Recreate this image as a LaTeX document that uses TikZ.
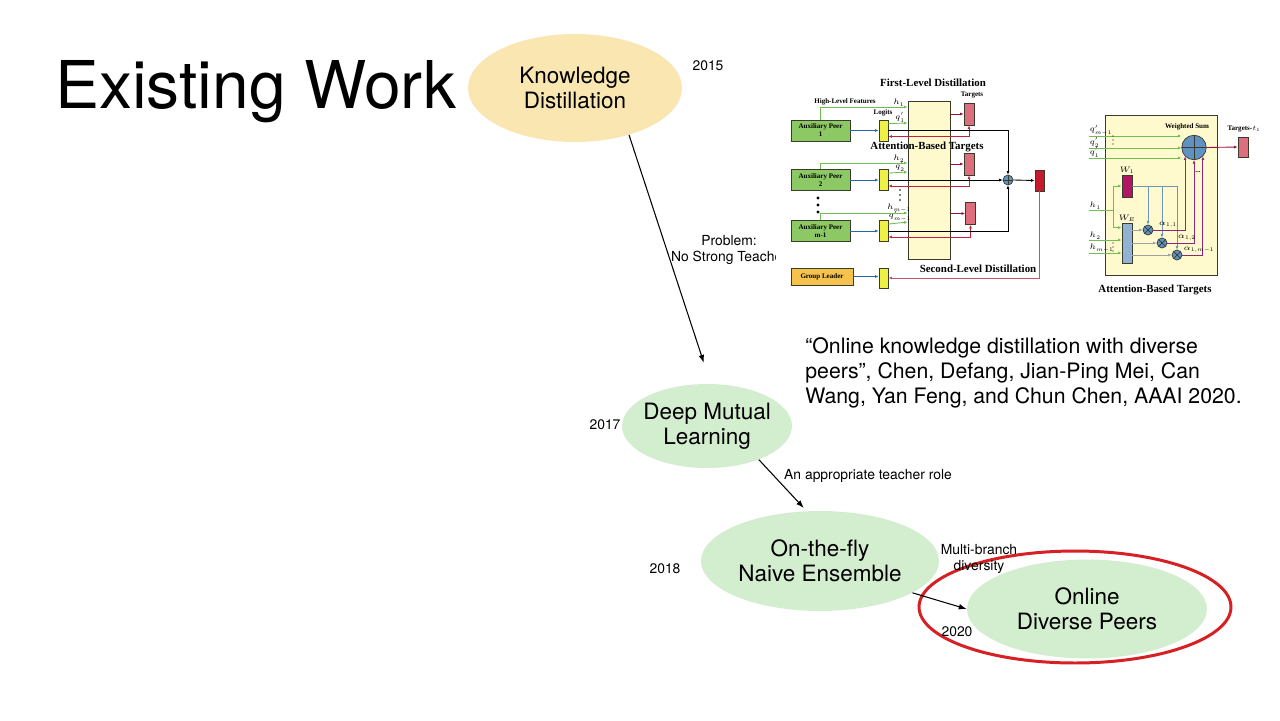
\RequirePackage{fix-cm}
\documentclass[tikz,border=0pt]{standalone}
\usepackage{fontspec}
\setmainfont{TeX Gyre Heros}
\newfontfamily\bildfont{Liberation Serif}
\usepackage{amsmath}
\usetikzlibrary{shapes.geometric,arrows.meta}

\definecolor{kdgelb}{RGB}{249,230,176}
\definecolor{hellgruen}{RGB}{211,237,207}
\definecolor{ringrot}{RGB}{214,32,36}
\definecolor{kastenrand}{RGB}{55,60,45}
\definecolor{peergruen}{RGB}{140,200,100}
\definecolor{leiterorange}{RGB}{245,195,75}
\definecolor{logitgelb}{RGB}{238,240,70}
\definecolor{grossgelb}{RGB}{255,250,205}
\definecolor{zielrosa}{RGB}{222,110,125}
\definecolor{ausrot}{RGB}{200,25,45}
\definecolor{summenblau}{RGB}{95,145,195}
\definecolor{wmagenta}{RGB}{180,20,100}
\definecolor{weblau}{RGB}{145,178,210}
\definecolor{liniengruen}{RGB}{112,190,80}
\definecolor{linienblau}{RGB}{40,100,170}
\definecolor{linienrot}{RGB}{200,30,60}
\definecolor{linienrosa}{RGB}{190,85,105}
\definecolor{dunkelrot}{RGB}{150,20,50}
\definecolor{graublau}{RGB}{110,150,180}
\definecolor{liniengrau}{RGB}{160,160,160}
\definecolor{lila}{RGB}{140,40,120}

\begin{document}
\begin{tikzpicture}[
      x=0.02cm, y=-0.02cm,
      blase/.style={ellipse, inner sep=0pt, align=center, font=\fontsize{12.8}{14.3}\selectfont},
      gelbblase/.style={blase, fill=kdgelb},
      gruenblase/.style={blase, fill=hellgruen},
      pfeil/.style={-{Latex[length=4.5pt,width=3.2pt]}, black, line width=0.6pt},
      notiz/.style={font=\fontsize{7.9}{9}\selectfont, align=center, inner sep=0pt},
      zitat/.style={font=\fontsize{12.1}{14.2}\selectfont, align=left, inner sep=0pt},
      % Stile der eingefuegten Abbildung
      bildtitel/.style={font=\bildfont\bfseries\fontsize{6.2}{7}\selectfont, inner sep=0pt},
      bildklein/.style={font=\bildfont\bfseries\fontsize{4}{4.6}\selectfont, inner sep=0pt, align=center},
      bildmathe/.style={font=\fontsize{4.5}{5}\selectfont, inner sep=0.2pt},
      kasten/.style={draw=kastenrand, line width=0.5pt, inner sep=0pt, bildklein},
      peer/.style={kasten, fill=peergruen, minimum width=1.18cm, minimum height=0.42cm},
      leiter/.style={kasten, fill=leiterorange, minimum width=1.24cm, minimum height=0.34cm},
      logit/.style={kasten, fill=logitgelb, minimum width=0.18cm, minimum height=0.42cm},
      ziel/.style={kasten, fill=zielrosa, minimum width=0.2cm, minimum height=0.44cm},
      kreis/.style={circle, draw=kastenrand, fill=summenblau, line width=0.4pt, inner sep=0pt, minimum size=0.2cm},
      summe/.style={kreis, path picture={\draw[line width=0.4pt]
          (path picture bounding box.north) -- (path picture bounding box.south)
          (path picture bounding box.west) -- (path picture bounding box.east);}},
      mal/.style={kreis, path picture={\draw[line width=0.4pt]
          (path picture bounding box.north west) -- (path picture bounding box.south east)
          (path picture bounding box.north east) -- (path picture bounding box.south west);}},
      linie/.style={line width=0.5pt, -{Latex[length=2pt,width=1.7pt]}},
      gruenlinie/.style={linie, draw=liniengruen},
      blaulinie/.style={linie, draw=linienblau},
      schwarzlinie/.style={linie, draw=black},
      rotlinie/.style={linie, draw=linienrot, {Latex[length=2pt,width=1.7pt]}-{Latex[length=2pt,width=1.7pt]}},
      rosalinie/.style={linie, draw=linienrosa},
      dunkelrotlinie/.style={linie, draw=dunkelrot},
      graublaulinie/.style={linie, draw=graublau},
      graulinie/.style={linie, draw=liniengrau},
      lilalinie/.style={linie, draw=lila}
    ]
    \fill[white] (0,0) rectangle (1280,720);
    \useasboundingbox (0,0) rectangle (1280,720);

    % ---------- Titel ----------
    \node[anchor=base west, inner sep=0pt, font=\fontsize{37.5}{44}\selectfont] (titel) at (55,108) {Existing Work};

    % ---------- Zeitleiste ----------
    \node[gelbblase, minimum width=4.28cm, minimum height=2.16cm] (kd) at (575,88) {Knowledge\\Distillation};
    \node[gruenblase, inner xsep=-0.08cm, minimum width=3.4cm, minimum height=1.68cm] (dml) at (707,426) {Deep Mutual\\Learning};
    \node[gruenblase, minimum width=4.76cm, minimum height=2cm] (otf) at (820,561) {On-the-fly\\Naive Ensemble};
    \node[gruenblase, minimum width=4.8cm, minimum height=1.98cm] (odp) at (1087,609) {Online\\Diverse Peers};
    \node[ellipse, draw=ringrot, line width=1.7pt, minimum width=6.24cm, minimum height=2.24cm] (ring) at (1075,607) {};

    \node[notiz] (j15) at (708,66) {2015};
    \node[notiz] (j17) at (605,425) {2017};
    \node[notiz] (j18) at (665,569) {2018};
    \node[notiz] (j20) at (957,632) {2020};

    \draw[pfeil, shorten >=0.44cm] (kd.-41) -- (dml.85);
    \draw[pfeil, shorten >=0.08cm] (dml.-33) -- (otf.105);
    \draw[pfeil] (otf.-19) -- (odp.west);

    \node[notiz] (problem) at (729,250) {Problem:\\No Strong Teacher};
    \node[notiz] (rolle) at (868,476) {An appropriate teacher role};
    \node[notiz] (vielfalt) at (979,559) {Multi-branch\\diversity};

    \node[zitat, anchor=north west] (quelle) at (805,337)
      {“Online knowledge distillation with diverse\\peers”, Chen, Defang, Jian-Ping Mei, Can\\Wang, Yan Feng, and Chun Chen, AAAI 2020.};

    % ---------- eingefuegte Abbildung: weisser Hintergrund ----------
    \fill[white] (776,70) rectangle (1270,300);

    % ---------- (a) zweistufige Destillation ----------
    \node[kasten, fill=grossgelb, minimum width=0.84cm, minimum height=3.16cm] (gross) at (929,180) {};
    \node[bildtitel] (erste) at (933,83) {First-Level Distillation};
    \node[bildklein] (merkmale) at (845,102) {High-Level Features};
    \node[bildklein] (logits) at (883,113) {Logits};
    \node[bildklein] (targets) at (972,95) {Targets};

    \foreach \n/\y/\hy/\qy/\idx in {1/130.5/107/123/1, 2/180/163/172/2, 3/231/213/222/m-1}{
      \node[peer] (p\n) at (820.5,\y) {Auxiliary Peer\\\idx};
      \node[logit] (l\n) at (883.5,\y) {};
      \node[bildmathe, anchor=south] (h\n) at (899,\hy) {$h_{\idx}$};
      \node[bildmathe, anchor=south] (q\n) at (900,\qy) {$q'_{\idx}$};
    }
    \node[ziel] (z1) at (969,114) {};
    \node[ziel] (z2) at (969,164) {};
    \node[ziel] (z3) at (970.5,213.5) {};
    \node[summe] (s) at (1008,180) {};
    \node[kasten, fill=ausrot, minimum width=0.18cm, minimum height=0.42cm] (aus) at (1039.5,180.5) {};
    \node[leiter] (gl) at (822,276.5) {Group Leader};
    \node[logit, minimum height=0.4cm] (l4) at (883.5,278) {};

    \foreach \n in {1,2,3}{
      \draw[gruenlinie] (p\n.north) |- (gross.west |- h\n.south);
      \draw[gruenlinie] ([yshift=-0.08cm]l\n.north east) -- (gross.west |- q\n.south);
      \draw[blaulinie] (p\n.east) -- (p\n.east -| l\n.west);
      \draw[rotlinie] ([yshift=-0.12cm]l\n.east) -| (z\n.south);
      \draw[dunkelrotlinie] (gross.east |- z\n) -- (z\n.west);
    }
    \draw[schwarzlinie] (l1.east) -| (s.north);
    \draw[schwarzlinie] (l2.east) -- (s.west);
    \draw[schwarzlinie] (l3.east) -| (s.south);
    \draw[schwarzlinie] (s.east) -- (aus.west);
    \draw[rosalinie] (aus.south) |- (l4.east);
    \draw[blaulinie] (gl.east) -- (gl.east -| l4.west);

    \foreach \y in {198,205,212} \fill (818,\y) circle (0.9pt);
    \foreach \y in {190,195,200} \fill (900,\y) circle (0.45pt);

    \node[bildtitel] (attention) at (927,147) {Attention-Based Targets};
    \node[bildtitel] (zweite) at (978,269) {Second-Level Distillation};

    % ---------- (b) aufmerksamkeitsbasierte Ziele ----------
    \node[kasten, fill=grossgelb, minimum width=2.24cm, minimum height=3.2cm] (att) at (1161,195) {};
    \node[bildtitel] (attcap) at (1155,290) {Attention-Based Targets};
    \node[bildklein] (wsum) at (1187,127) {Weighted Sum};
    \node[summe, minimum size=0.49cm] (ws) at (1194,147.5) {};
    \node[ziel, minimum height=0.4cm] (tt) at (1243,147) {};
    \node[bildklein] (ttlab) at (1244,129) {Targets-$t_1$};

    \node[bildmathe, anchor=south west] (qa) at (1089,136) {$q'_{m-1}$};
    \node[bildmathe, anchor=south west] (qb) at (1089,148) {$q'_2$};
    \node[bildmathe, anchor=south west] (qc) at (1089,158) {$q'_1$};
    \foreach \q in {qa,qb,qc}
      \draw[gruenlinie] (\q.south west) -- (\q.south west -| ws.west);

    \node[kasten, fill=wmagenta, minimum width=0.2cm, minimum height=0.44cm] (w1) at (1127,186) {};
    \node[kasten, fill=weblau, minimum width=0.2cm, minimum height=0.8cm] (we) at (1127,243) {};
    \node[bildmathe, anchor=south] (w1lab) at (w1.north) {$W_1$};
    \node[bildmathe, anchor=south] (welab) at (we.north) {$W_E$};

    \node[bildmathe, anchor=south west] (ha) at (1089,210) {$h_1$};
    \node[bildmathe, anchor=south west] (hb) at (1089,240) {$h_2$};
    \node[bildmathe, anchor=south west] (hc) at (1089,253) {$h_{m-1}$};
    \draw[gruenlinie] (ha.south west) -- ++(24,0) coordinate (gabel) |- (w1.west);
    \draw[gruenlinie] (gabel) |- ([yshift=-0.1cm]we.north west);
    \draw[gruenlinie] (hb.south west) -- (hb.south west -| we.west);
    \draw[gruenlinie] (hc.south west) -- (hc.south west -| we.west);
    \foreach \y in {136,140,144} \fill (1113,\y) circle (0.4pt);
    \foreach \y in {243,247,251} \fill (1113,\y) circle (0.4pt);

    \node[mal] (m1) at (1148,230) {};
    \node[mal] (m2) at (1162,243) {};
    \node[mal] (m3) at (1177,255) {};
    \draw[graublaulinie] (w1.east) -| (m3.north);
    \draw[graublaulinie] (w1.east -| m1) -- (m1.north);
    \draw[graublaulinie] (w1.east -| m2) -- (m2.north);
    \foreach \m in {m1,m2,m3}
      \draw[graulinie] (we.east |- \m) -- (\m.west);
    \draw[lilalinie] (m1.east) -| (ws.-135);
    \draw[lilalinie] (m2.east) -| (ws.-90);
    \draw[lilalinie] (m3.east) -| (ws.-45);
    \node[bildmathe] (a1) at (1168,225) {$\alpha_{1,1}$};
    \node[bildmathe] (a2) at (1187,238) {$\alpha_{1,2}$};
    \node[bildmathe] (a3) at (1199,250) {$\alpha_{1,m-1}$};
    \node[bildklein] (pkt) at (1198,172) {...};
    \draw[dunkelrotlinie] (ws.east) -- (tt.west);
  \end{tikzpicture}
\end{document}
